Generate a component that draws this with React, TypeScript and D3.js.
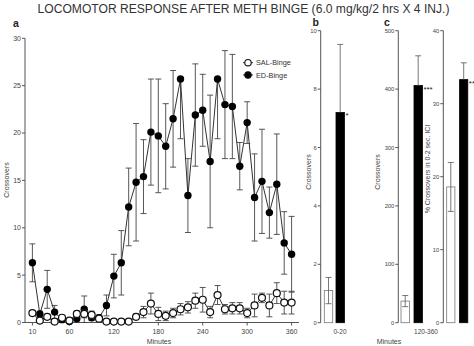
import React from "react";
import * as d3 from "d3";

const minutes = [10,20,30,40,50,60,70,80,90,100,110,120,130,140,150,160,170,180,190,200,210,220,230,240,250,260,270,280,290,300,310,320,330,340,350,360];
const edMean = [6.3,0.9,3.5,1.1,0.3,0.1,0.4,1.4,0.5,0.5,1.8,4.9,6.3,12.2,14.8,15.4,20.1,19.7,18.6,21.5,25.7,13.4,21.9,22.4,17.0,25.7,23.0,22.8,16.5,21.1,13.2,14.9,11.6,14.6,8.4,7.2];
const edSem = [2.0,0.3,2.0,0.7,0.2,0.1,0.2,1.4,0.3,0.3,1.1,2.3,3.4,4.1,6.2,3.9,5.6,6.0,4.5,5.1,6.3,3.9,5.4,3.8,7.0,6.3,5.7,5.5,2.5,2.2,4.6,5.5,2.7,5.3,3.3,4.0];
const salMean = [1.0,0.2,0.6,0.1,0.5,0.2,0.9,0.9,0.8,0.4,0.1,0.1,0.1,0.1,0.6,1.1,2.0,0.9,0.7,1.0,1.4,1.6,2.3,2.4,1.1,2.9,1.4,1.5,1.5,1.0,1.8,2.6,1.8,3.1,2.1,2.1];
const salSem = [0.2,0.1,0.2,0.1,0.1,0.1,0.3,0.4,0.4,0.3,0.1,0.1,0.1,0.1,0.3,0.6,1.1,0.7,0.5,0.5,0.6,0.6,0.8,1.3,0.6,1.0,0.5,0.6,0.6,0.5,1.2,0.5,1.2,1.1,1.2,1.2];
const xTicksA = [10,60,120,180,240,300,360];
const yTicksA = [0,5,10,15,20,25,30];

const groups = ["SAL-Binge","ED-Binge"];
const bMean = [1.1, 7.2];
const bSem = [0.45, 2.33];
const bTicks = [0,2,4,6,8,10];
const c1Mean = [37, 406];
const c1Sem = [9.5, 51];
const c1Ticks = [0,100,200,300,400,500];
const c2Mean = [18.6, 33.3];
const c2Sem = [3.35, 2.3];
const c2Ticks = [0,10,20,30,40];

const FONT = "Liberation Sans, Arial, sans-serif";
const AX = "#555";

function YAxis({ scale, ticks, x, fs }: any) {
  const [r0, r1] = scale.range();
  return (
    <g>
      <line x1={x} x2={x} y1={r0} y2={r1} stroke={AX} strokeWidth={1} />
      {ticks.map((t: number) => (
        <g key={t}>
          <line x1={x - 3} x2={x} y1={scale(t)} y2={scale(t)} stroke={AX} strokeWidth={1} />
          <text x={x - 4} y={scale(t) + fs * 0.35} fontSize={fs} textAnchor="end" fill="#444" fontFamily={FONT}>{t}</text>
        </g>
      ))}
    </g>
  );
}

function Bars({ mean, sem, y, xs, w, marks, markFs }: any) {
  return (
    <g>
      {mean.map((m: number, i: number) => {
        const top = y(m);
        const x = xs[i];
        const cx = x + w / 2;
        const filled = i === 1;
        return (
          <g key={i}>
            <rect x={x} y={top} width={w} height={y(0) - top} fill={filled ? "#000" : "#fff"} stroke={filled ? "#000" : "#777"} strokeWidth={0.8} />
            <line x1={cx} x2={cx} y1={y(m + sem[i])} y2={filled ? top : y(m - sem[i])} stroke="#555" strokeWidth={0.8} />
            <line x1={cx - 3} x2={cx + 3} y1={y(m + sem[i])} y2={y(m + sem[i])} stroke="#555" strokeWidth={0.8} />
            {!filled && <line x1={cx - 3} x2={cx + 3} y1={y(m - sem[i])} y2={y(m - sem[i])} stroke="#555" strokeWidth={0.8} />}
            {filled && marks && (
              <text x={x + w + 1} y={top + 6} fontSize={markFs} fill="#222" fontFamily={FONT}>{marks}</text>
            )}
          </g>
        );
      })}
    </g>
  );
}

export default function App() {
  const W = 474, H = 346;
  const xA = d3.scaleLinear().domain([0, 370]).range([25, 299]);
  const yA = d3.scaleLinear().domain([0, 30]).range([322.5, 38.3]);
  const lineA = d3.line<number>().x((_, i) => xA(minutes[i])).y((d) => yA(d));
  const cap = 3;

  const yB = d3.scaleLinear().domain([0, 10]).range([322.7, 30.7]);
  const yC1 = d3.scaleLinear().domain([0, 500]).range([322.7, 30.7]);
  const yC2 = d3.scaleLinear().domain([0, 40]).range([322.7, 30.7]);

  return (
    <svg width={W} height={H} style={{ position: "absolute", left: 0, top: 0, background: "#fff" }} fontFamily={FONT}>
      <rect width={W} height={H} fill="#fff" />
      <text x={243.5} y={12.5} fontSize={12} textAnchor="middle" fill="#333" fontFamily={FONT} textLength={412} lengthAdjust="spacingAndGlyphs">
        LOCOMOTOR RESPONSE AFTER METH BINGE (6.0 mg/kg/2 hrs X 4 INJ.)
      </text>
      <text x={13} y={26.5} fontSize={10.5} fontWeight="bold" fill="#222">a</text>
      <text x={312.5} y={25.5} fontSize={10.5} fontWeight="bold" fill="#222">b</text>
      <text x={384} y={25.5} fontSize={10.5} fontWeight="bold" fill="#222">c</text>

      {/* Panel a */}
      <YAxis scale={yA} ticks={yTicksA} x={25} fs={7} />
      <line x1={25} x2={299} y1={yA(0)} y2={yA(0)} stroke={AX} strokeWidth={1} />
      {xTicksA.map((t) => (
        <g key={t}>
          <line x1={xA(t)} x2={xA(t)} y1={yA(0)} y2={yA(0) + 3} stroke={AX} strokeWidth={1} />
          <text x={xA(t)} y={334} fontSize={7} textAnchor="middle" fill="#444">{t}</text>
        </g>
      ))}
      <text x={159} y={344} fontSize={7} textAnchor="middle" fill="#444">Minutes</text>
      <text transform={`translate(8.5,180) rotate(-90)`} fontSize={7} textAnchor="middle" fill="#444">Crossovers</text>

      {edMean.map((m, i) => {
        const x = xA(minutes[i]);
        const hi = m + edSem[i];
        const lo = m - edSem[i];
        return (
          <g key={"ee" + i} stroke="#444" strokeWidth={0.9}>
            {hi <= 30 && <line x1={x} x2={x} y1={yA(hi)} y2={yA(m)} />}
            {hi <= 30 && <line x1={x - cap} x2={x + cap} y1={yA(hi)} y2={yA(hi)} />}
            <line x1={x} x2={x} y1={yA(m)} y2={yA(Math.max(lo, 0))} />
            {lo >= 0 && <line x1={x - cap} x2={x + cap} y1={yA(lo)} y2={yA(lo)} />}
          </g>
        );
      })}
      <path d={lineA(edMean) || ""} fill="none" stroke="#333" strokeWidth={1} />
      {edMean.map((m, i) => (
        <circle key={"ep" + i} cx={xA(minutes[i])} cy={yA(m)} r={3.7} fill="#000" />
      ))}

      {salMean.map((m, i) => {
        const x = xA(minutes[i]);
        const hi = m + salSem[i];
        const lo = Math.max(m - salSem[i], 0);
        return (
          <g key={"se" + i} stroke="#444" strokeWidth={0.9}>
            <line x1={x} x2={x} y1={yA(hi)} y2={yA(lo)} />
            <line x1={x - cap} x2={x + cap} y1={yA(hi)} y2={yA(hi)} />
            <line x1={x - cap} x2={x + cap} y1={yA(lo)} y2={yA(lo)} />
          </g>
        );
      })}
      <path d={lineA(salMean) || ""} fill="none" stroke="#333" strokeWidth={1} />
      {salMean.map((m, i) => (
        <circle key={"sp" + i} cx={xA(minutes[i])} cy={yA(m)} r={3.5} fill="#fff" stroke="#111" strokeWidth={1.2} />
      ))}

      {groups.map((g, i) => (
        <g key={g}>
          <line x1={243} x2={253} y1={62.7 + i * 12.3} y2={62.7 + i * 12.3} stroke="#333" strokeWidth={1} />
          <circle cx={248} cy={62.7 + i * 12.3} r={3.2} fill={i === 0 ? "#fff" : "#000"} stroke="#111" strokeWidth={1.1} />
          <text x={256} y={65.3 + i * 12.3} fontSize={7.3} fill="#333">{g}</text>
        </g>
      ))}

      {/* Panel b */}
      <YAxis scale={yB} ticks={bTicks} x={320.7} fs={5.8} />
      <Bars mean={bMean} sem={bSem} y={yB} xs={[324.3, 336]} w={8.4} marks="*" markFs={8} />
      <text x={340} y={334} fontSize={6.5} textAnchor="middle" fill="#444">0-20</text>
      <text transform={`translate(311,172) rotate(-90)`} fontSize={7} textAnchor="middle" fill="#444">Crossovers</text>

      {/* Panel c1 */}
      <YAxis scale={yC1} ticks={c1Ticks} x={398.3} fs={5.8} />
      <Bars mean={c1Mean} sem={c1Sem} y={yC1} xs={[401, 414]} w={8.4} marks="***" markFs={8} />
      <text transform={`translate(380,172) rotate(-90)`} fontSize={7} textAnchor="middle" fill="#444">Crossovers</text>
      <text x={426} y={334} fontSize={6.5} textAnchor="middle" fill="#444">120-360</text>
      <text x={389} y={344} fontSize={7} textAnchor="middle" fill="#444">Minutes</text>

      {/* Panel c2 */}
      <YAxis scale={yC2} ticks={c2Ticks} x={443.3} fs={5.8} />
      <Bars mean={c2Mean} sem={c2Sem} y={yC2} xs={[446.7, 459.6]} w={8.2} marks="**" markFs={8} />
      <text transform={`translate(430,169) rotate(-90)`} fontSize={7} textAnchor="middle" fill="#444">% Crossovers in 0-2 sec. ICI</text>
    </svg>
  );
}
